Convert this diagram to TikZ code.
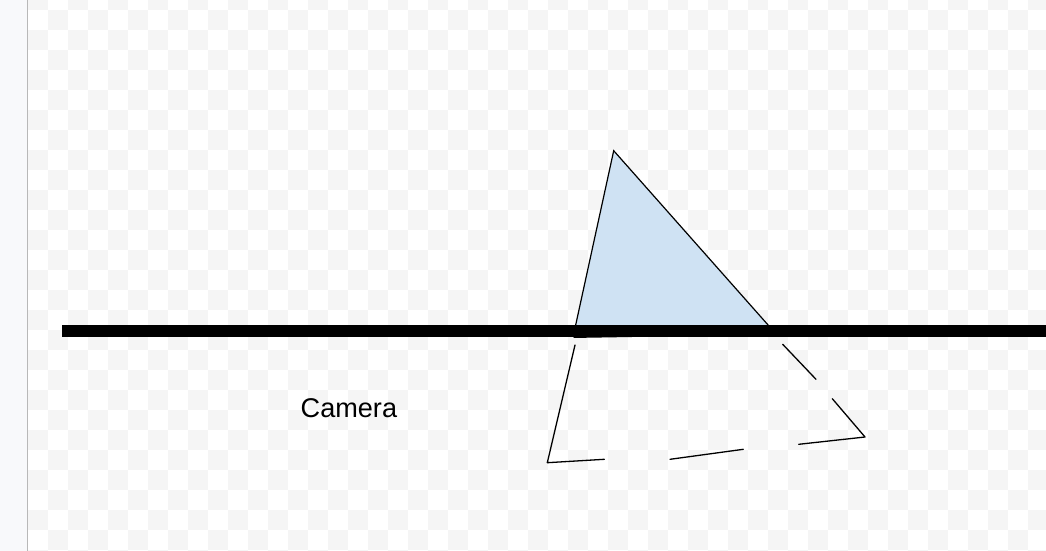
\documentclass[tikz,border=0pt]{standalone}
\usepackage{fontspec}
\setmainfont{Liberation Sans}
\definecolor{panel}{HTML}{F8F9FB}
\definecolor{panelline}{HTML}{B8B8B8}
\definecolor{checker}{HTML}{F5F5F5}
\definecolor{triblue}{HTML}{CFE2F3}
\tikzset{
  thinline/.style={black, line width=1.3pt, line cap=round, line join=round},
  thickline/.style={black, line width=12pt},
}
\begin{document}
\begin{tikzpicture}[x=1pt,y=-1pt]
\useasboundingbox (0,0) rectangle (1046,551);
% background
\fill[white] (0,0) rectangle (1046,551);
\fill[panel] (0,0) rectangle (27,551);
\begin{scope}
\clip (28,0) rectangle (1046,551);
\foreach \r in {0,...,28}{
  \foreach \c in {0,...,51}{
    \pgfmathtruncatemacro{\myparity}{mod(\r+\c,2)}
    \ifnum\myparity=0
      \fill[checker] ({28+20*\c},{-10+20*\r}) rectangle +(20,20);
    \fi
  }
}
\end{scope}
\draw[panelline, line width=1pt] (27.5,0) -- (27.5,551);
% triangle above the surface
\filldraw[fill=triblue, draw=black, line width=1.2pt, line join=miter]
  (613.7,150.7) -- (574.8,329) -- (771.6,329) -- cycle;
% reflected (dashed) shape
\draw[thinline] (574,337.3) -- (665,335.8);
\draw[thinline] (575,345) -- (547.3,462.7) -- (604.3,459.3);
\draw[thinline] (670,459.3) -- (743.3,449.3);
\draw[thinline] (798.7,444.3) -- (865,437) -- (832.3,398.7);
\draw[thinline] (816,379.3) -- (782.7,344.3);
% surface line
\draw[thickline] (62,330.5) -- (1046,330.5);
% label
\node[anchor=base west, inner sep=0pt, font=\fontsize{27.1}{32}\selectfont] (camera) at (300.5,417.7) {Camera};
\end{tikzpicture}
\end{document}
